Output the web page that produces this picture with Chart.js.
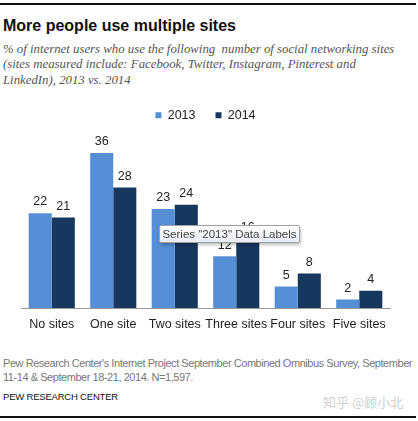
<!DOCTYPE html>
<html>
<head>
<meta charset="utf-8">
<script src="https://cdn.jsdelivr.net/npm/chart.js@4/dist/chart.umd.min.js"></script>
<style>
	html, body { margin: 0; padding: 0; background: #fff; }
	body { width: 418px; height: 421px; position: relative; overflow: hidden; font-family: 'Liberation Sans', Arial, sans-serif; }
	.rule { position: absolute; left: 0; width: 416px; height: 2px; background: #111; }
	#title { position: absolute; left: 3px; top: 17px; font-size: 16px; font-weight: bold; color: #111; white-space: nowrap; }
	#subtitle { position: absolute; left: 3px; top: 41.5px; font-family: 'Liberation Serif', Georgia, serif; font-style: italic; font-size: 12.8px; line-height: 15.5px; color: #555; white-space: nowrap; }
	#wrap { position: absolute; left: 0; top: 89px; width: 418px; height: 244px; }
	#note { position: absolute; left: 3px; top: 356px; font-size: 11px; line-height: 14px; color: #777; letter-spacing: -0.45px; white-space: nowrap; }
	#source { position: absolute; left: 3px; top: 391px; font-size: 9.5px; color: #111; letter-spacing: -0.2px; white-space: nowrap; }
	#mark { position: absolute; left: 323px; top: 392px; font-family: 'Noto Sans CJK SC', sans-serif; font-size: 13px; color: #d0d0d0; white-space: nowrap; }
	#tip { position: absolute; left: 159px; top: 225px; width: 139px; height: 16px; border: 1px solid #a0a0a0; border-radius: 2px; background: linear-gradient(#ffffff, #e8ecf2); box-shadow: 1px 2px 3px rgba(0,0,0,0.25); font-size: 11.5px; line-height: 16px; color: #444; text-align: center; white-space: nowrap; }
</style>
</head>
<body>
<div class="rule" style="top:3px"></div>
<div id="title">More people use multiple sites</div>
<div id="subtitle">% of internet users who use the following&nbsp; number of social networking sites<br>(sites measured include: Facebook, Twitter, Instagram, Pinterest and<br>LinkedIn), 2013 vs. 2014</div>
<div id="wrap"><canvas id="chart"></canvas></div>
<div id="tip">Series "2013" Data Labels</div>
<div id="note">Pew Research Center's Internet Project September Combined Omnibus Survey, September<br>11-14 &amp; September 18-21, 2014. N=1,597.</div>
<div id="source">PEW RESEARCH CENTER</div>
<div id="mark">知乎 @顾小北</div>
<div class="rule" style="top:416px"></div>

<script>
const categories = ['No sites', 'One site', 'Two sites', 'Three sites', 'Four sites', 'Five sites'];
const values2013 = [22, 36, 23, 12, 5, 2];
const values2014 = [21, 28, 24, 16, 8, 4];

// numbers above each bar
const barLabels = {
	id: 'barLabels',
	afterDatasetsDraw(chart) {
		const ctx = chart.ctx;
		ctx.save();
		ctx.font = '12.5px "Liberation Sans", Arial, sans-serif';
		ctx.fillStyle = '#222';
		ctx.textAlign = 'center';
		ctx.textBaseline = 'bottom';
		chart.data.datasets.forEach((ds, i) => {
			chart.getDatasetMeta(i).data.forEach((bar, j) => {
				ctx.fillText(ds.data[j], bar.x, bar.y - 5);
			});
		});
		ctx.restore();
	},
};

new Chart(document.getElementById('chart'), {
	type: 'bar',
	data: {
		labels: categories,
		datasets: [
			{
				label: '2013',
				data: values2013,
				backgroundColor: '#558ED5',
			},
			{
				label: '2014',
				data: values2014,
				backgroundColor: '#17375E',
			},
		],
	},
	options: {
		responsive: true,
		maintainAspectRatio: false,
		animation: false,
		events: [],
		categoryPercentage: 0.75,
		barPercentage: 1.0,
		layout: {
			padding: { left: 21, right: 28, top: 0, bottom: 0 },
		},
		plugins: {
			legend: {
				display: true,
				labels: {
					boxWidth: 6,
					boxHeight: 6,
					padding: 20,
					color: '#222',
					font: { family: '"Liberation Sans", Arial, sans-serif', size: 12.5 },
				},
			},
			tooltip: { enabled: false },
			title: { display: false },
		},
		scales: {
			x: {
				grid: { display: false },
				border: { color: '#999' },
				ticks: {
					color: '#222',
					padding: 1,
					maxRotation: 0,
					minRotation: 0,
					autoSkip: false,
					font: { family: '"Liberation Sans", Arial, sans-serif', size: 12.5 },
				},
			},
			y: {
				display: false,
				min: 0,
				max: 41,
			},
		},
	},
	plugins: [barLabels],
});
</script>
</body>
</html>
